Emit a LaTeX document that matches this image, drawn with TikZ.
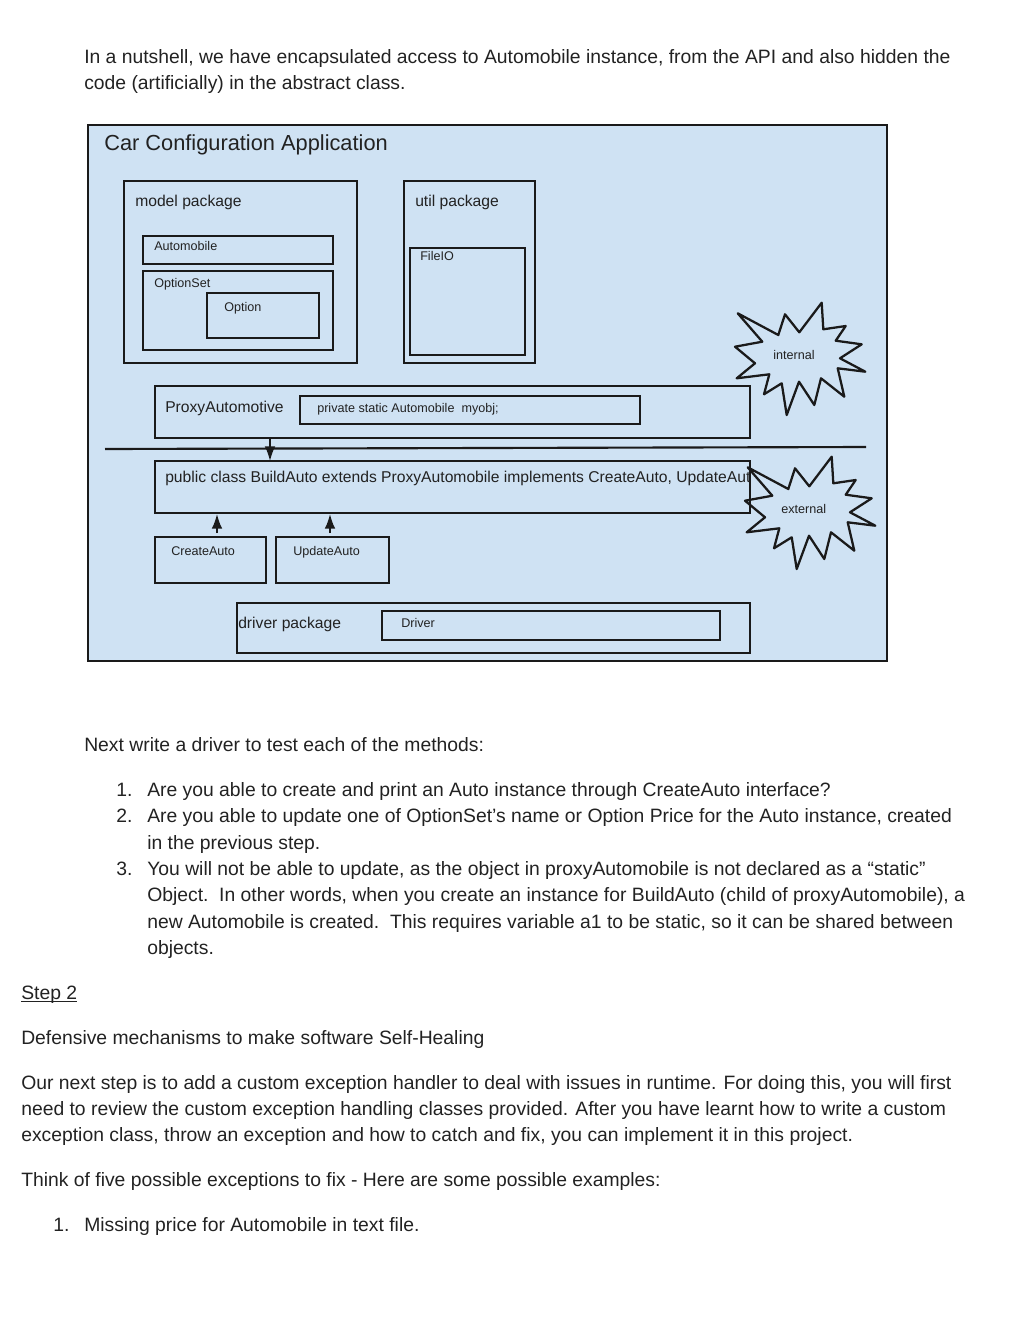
\documentclass[tikz,border=0pt]{standalone}
\usepackage{fontspec}
\setmainfont{Liberation Sans}
\usetikzlibrary{arrows.meta}
\definecolor{panelblue}{HTML}{CFE2F3}
\definecolor{inkline}{HTML}{1A1A1A}
\definecolor{inktext}{HTML}{222222}
\tikzset{
  pbox/.style 2 args={draw=inkline, line width=1.8pt, anchor=north west, inner sep=0pt, outer sep=0pt,
    minimum width=#1*0.75pt, minimum height=#2*0.75pt},
  lbl/.style={anchor=base west, inner sep=0pt, text=inktext},
  doc/.style={lbl, yshift=0.4pt, font=\fontsize{14.5}{18}\selectfont},
  biglbl/.style={lbl, font=\fontsize{16.35}{20}\selectfont},
  midlbl/.style={lbl, font=\fontsize{11.75}{14}\selectfont},
  smalllbl/.style={lbl, font=\fontsize{9.45}{11}\selectfont},
  link/.style={-{Latex[length=11pt,width=8pt]}, draw=inkline, line width=1.4pt},
  burst/.style={draw=inkline, line width=1.7pt, line join=round}
}
\newcommand{\burstpath}{(737.7,313.3) -- (778.3,335) -- (785,314.3) -- (799.3,332.3) -- (821.7,302.7) -- (823.3,329.3) -- (845.7,326) -- (835.7,340.7) -- (861.7,344.3) -- (840,358.3) -- (865.3,371.7) -- (837.7,368.3) -- (844.3,396.7) -- (821,378.3) -- (814.3,405) -- (799,381.7) -- (786.7,415) -- (781.7,383.3) -- (764,394.3) -- (769.3,374.3) -- (736.7,378.3) -- (755,363.3) -- (735,346.7) -- (762.3,341.7) -- cycle}
\begin{document}
\begin{tikzpicture}[x=0.75pt,y=-0.75pt]
\useasboundingbox (0,0) rectangle (1012,1324);
% text above the diagram
\node[doc] (introa) at (84,64) {In a nutshell, we have encapsulated access to Automobile instance, from the API and also hidden the};
\node[doc] (introb) at (84,90) {code (artificially) in the abstract class.};
% the panel
\node[pbox={799}{536}, fill=panelblue] (app) at (88,125) {};
\node[biglbl] (apptitle) at (104,150) {Car Configuration Application};
% packages
\node[pbox={233}{182}] (model) at (124,181) {};
\node[midlbl] (modellbl) at (135,206) {model package};
\node[pbox={190}{28}] (automobile) at (143,236) {};
\node[smalllbl] (automobilelbl) at (154,250) {Automobile};
\node[pbox={190}{79}] (optionset) at (143,271) {};
\node[smalllbl] (optionsetlbl) at (154,287) {OptionSet};
\node[pbox={112}{45}] (option) at (207,293) {};
\node[smalllbl] (optionlbl) at (224,311) {Option};
\node[pbox={131}{182}] (util) at (404,181) {};
\node[midlbl] (utillbl) at (415,206) {util package};
\node[pbox={115}{107}] (fileio) at (410,248) {};
\node[smalllbl] (fileiolbl) at (420,260) {FileIO};
% proxy and build classes
\node[pbox={595}{52}] (proxy) at (155,386) {};
\node[midlbl] (proxylbl) at (165,412) {ProxyAutomotive};
\node[pbox={340}{28}] (myobj) at (300,396) {};
\node[smalllbl] (myobjlbl) at (317,412) {private static Automobile\ \ myobj;};
\coordinate (dividerl) at (105,449);
\coordinate (dividerr) at (866,447);
\draw[draw=inkline, line width=1.6pt] (dividerl) -- (dividerr);
\node[pbox={595}{52}] (build) at (155,461) {};
\node[midlbl] (buildlbl) at (165,482) {public class BuildAuto extends ProxyAutomobile implements CreateAuto, UpdateAut};
\node[pbox={111}{46}] (create) at (155,537) {};
\node[smalllbl] (createlbl) at (171,555) {CreateAuto};
\node[pbox={113}{46}] (update) at (276,537) {};
\node[smalllbl] (updatelbl) at (293,555) {UpdateAuto};
\node[pbox={513}{50}] (driver) at (237,603) {};
\node[midlbl] (driverlbl) at (238,628) {driver package};
\node[pbox={338}{29}] (driverclass) at (382,611) {};
\node[smalllbl] (driverclasslbl) at (401,627) {Driver};
% inheritance arrows
\coordinate (proxyout) at (270,438);
\coordinate (buildin) at (270,461);
\coordinate (createout) at (217,533);
\coordinate (createin) at (217,514);
\coordinate (updateout) at (330,533);
\coordinate (updatein) at (330,514);
\draw[link] (proxyout) -- (buildin);
\draw[link] (createout) -- (createin);
\draw[link] (updateout) -- (updatein);
% internal and external bursts
\draw[burst] \burstpath;
\node[smalllbl] (internallbl) at (773,359) {internal};
\begin{scope}[shift={(7.5pt,-115.5pt)}]
\draw[burst] \burstpath;
\end{scope}
\node[smalllbl] (externallbl) at (781,513) {external};
% text below the diagram
\node[doc] (next) at (84,752) {Next write a driver to test each of the methods:};
\node[doc] (numa) at (116,797) {1.};
\node[doc] (itema) at (147,797) {Are you able to create and print an Auto instance through CreateAuto interface?};
\node[doc] (numb) at (116,823) {2.};
\node[doc] (itemb) at (147,823) {Are you able to update one of OptionSet’s name or Option Price for the Auto instance, created};
\node[doc] (itembb) at (147,850) {in the previous step.};
\node[doc] (numc) at (116,876) {3.};
\node[doc] (itemc) at (147,876) {You will not be able to update, as the object in proxyAutomobile is not declared as a “static”};
\node[doc] (itemcb) at (147,902) {Object.\ \ In other words, when you create an instance for BuildAuto (child of proxyAutomobile), a};
\node[doc] (itemcc) at (147,929) {new Automobile is created.\ \ This requires variable a1 to be static, so it can be shared between};
\node[doc] (itemcd) at (147,955) {objects.};
\node[doc] (stepb) at (21,1000) {Step 2};
\draw[draw=inktext, line width=0.9pt] ([yshift=-1.3pt]stepb.base west) -- ([yshift=-1.3pt]stepb.base east);
\node[doc] (defense) at (21,1045) {Defensive mechanisms to make software Self-Healing};
\node[doc] (nexta) at (21,1090) {Our next step is to add a custom exception handler to deal with issues in runtime. For doing this, you will first};
\node[doc] (nextb) at (21,1116) {need to review the custom exception handling classes provided. After you have learnt how to write a custom};
\node[doc] (nextc) at (21,1142) {exception class, throw an exception and how to catch and fix, you can implement it in this project.};
\node[doc] (think) at (21,1187) {Think of five possible exceptions to fix - Here are some possible examples:};
\node[doc] (numd) at (53,1232) {1.};
\node[doc] (itemd) at (84,1232) {Missing price for Automobile in text file.};
\end{tikzpicture}
\end{document}
